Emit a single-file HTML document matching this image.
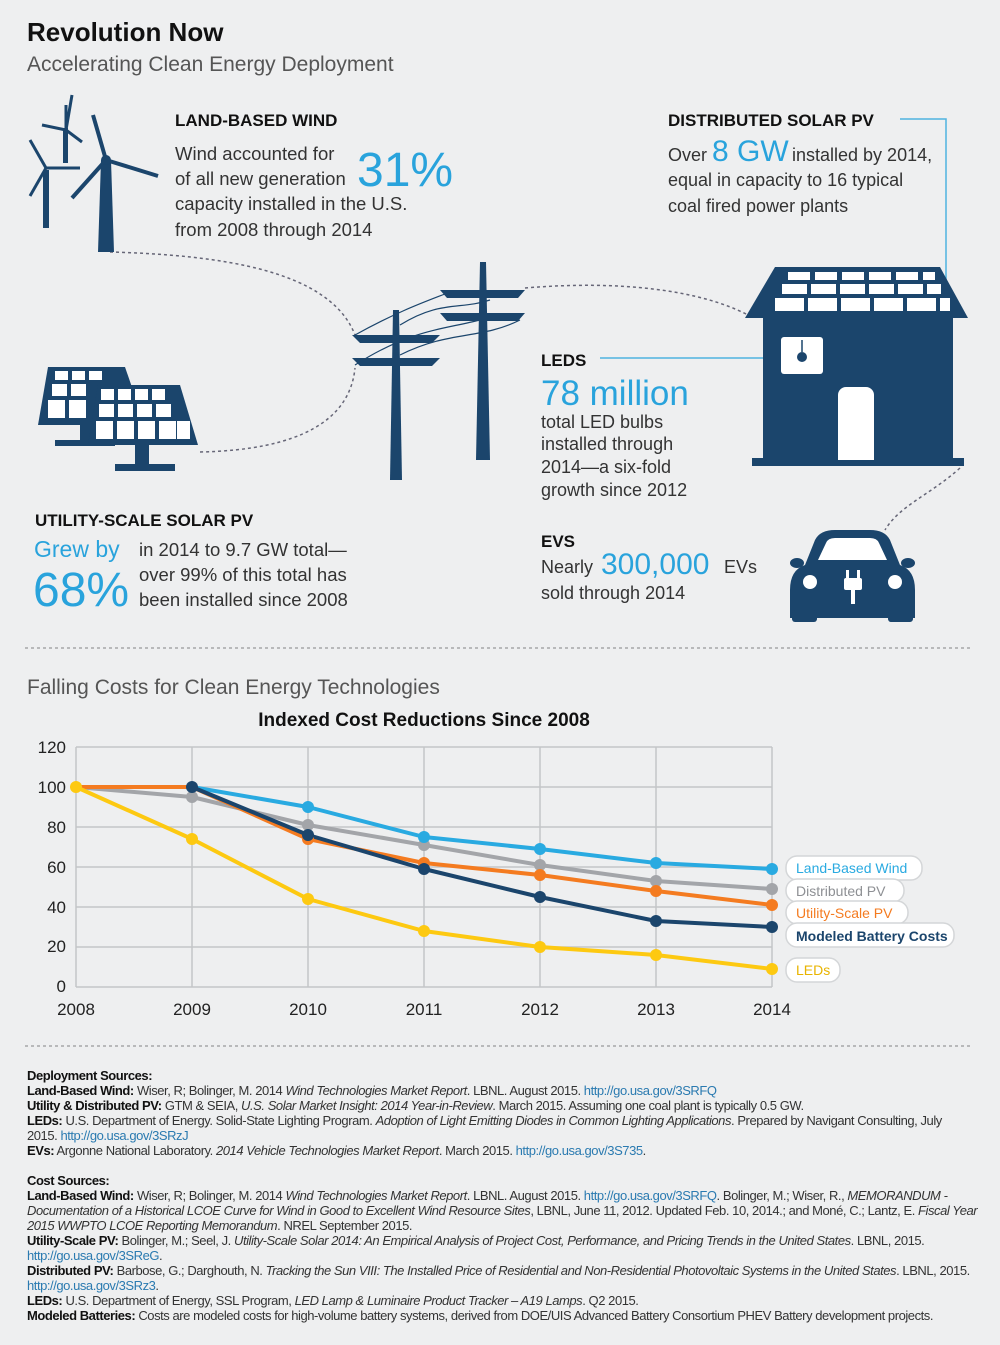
<!DOCTYPE html>
<html><head><meta charset="utf-8"><style>
html,body{margin:0;padding:0;background:#eeeff0;}
svg{display:block;font-family:"Liberation Sans",sans-serif;}
.src{position:absolute;left:27px;top:1068px;width:960px;font:13px/15px "Liberation Sans",sans-serif;color:#333;letter-spacing:-0.45px;white-space:nowrap}
.src b{color:#111}.src a{color:#2a7ab0;text-decoration:none}
</style></head><body>
<div style="position:relative;width:1000px;height:1345px;overflow:hidden">
<svg width="1000" height="1345" viewBox="0 0 1000 1345">
<rect width="1000" height="1345" fill="#eeeff0"/>
<text x="27" y="41" font-size="26" font-weight="bold" fill="#111">Revolution Now</text>
<text x="27" y="71" font-size="21" fill="#555">Accelerating Clean Energy Deployment</text>

<text x="175" y="126" font-size="17" font-weight="bold" fill="#111">LAND-BASED WIND</text>
<g font-size="18.5" fill="#333"><text x="175" y="160">Wind accounted for</text><text x="175" y="185">of all new generation</text><text x="175" y="210">capacity installed in the U.S.</text><text x="175" y="236">from 2008 through 2014</text></g>
<text x="357" y="186" font-size="48" fill="#29a3dc">31%</text>

<text x="668" y="126" font-size="17" font-weight="bold" fill="#111">DISTRIBUTED SOLAR PV</text>
<g font-size="18" fill="#333"><text x="668" y="161">Over</text><text x="792" y="161">installed by 2014,</text><text x="668" y="186">equal in capacity to 16 typical</text><text x="668" y="212">coal fired power plants</text></g>
<text x="712" y="161" font-size="30" fill="#29a3dc">8 GW</text>
<polyline points="900,119 946,119 946,355" fill="none" stroke="#4fb4e0" stroke-width="1.5"/>

<text x="541" y="366" font-size="17" font-weight="bold" fill="#111">LEDS</text>
<line x1="600" y1="358" x2="800" y2="358" stroke="#4fb4e0" stroke-width="1.5"/>
<text x="541" y="405" font-size="35" fill="#29a3dc">78 million</text>
<g font-size="18" fill="#333"><text x="541" y="428">total LED bulbs</text><text x="541" y="450">installed through</text><text x="541" y="473">2014—a six-fold</text><text x="541" y="496">growth since 2012</text></g>

<text x="541" y="547" font-size="17" font-weight="bold" fill="#111">EVS</text>
<g font-size="18" fill="#333"><text x="541" y="573">Nearly</text><text x="724" y="573">EVs</text><text x="541" y="599">sold through 2014</text></g>
<text x="601" y="574" font-size="30" fill="#29a3dc">300,000</text>

<text x="35" y="526" font-size="17" font-weight="bold" fill="#111">UTILITY-SCALE SOLAR PV</text>
<text x="34" y="557" font-size="23" fill="#29a3dc">Grew by</text>
<text x="33" y="606" font-size="48" fill="#29a3dc">68%</text>
<g font-size="18.5" fill="#333"><text x="139" y="556">in 2014 to 9.7 GW total—</text><text x="139" y="581">over 99% of this total has</text><text x="139" y="606">been installed since 2008</text></g>

<g fill="none" stroke="#667" stroke-width="1.5" stroke-dasharray="3,3">
<path d="M110,252 C220,255 330,270 355,335"/>
<path d="M200,452 C300,450 350,420 355,368"/>
<path d="M525,288 C620,280 700,290 748,315"/>
<path d="M960,468 C930,495 900,505 885,530"/>
</g>

<g fill="#1b456c" stroke="#1b456c">
<g stroke-width="3"><line x1="66" y1="160" x2="66" y2="105" /><line x1="66" y1="130" x2="72" y2="95"/><line x1="66" y1="130" x2="42" y2="125"/><line x1="66" y1="130" x2="82" y2="142"/></g>
<rect x="63" y="128" width="5" height="35" stroke="none"/>
<rect x="43" y="170" width="6" height="58" stroke="none"/>
<g stroke-width="3"><line x1="46" y1="168" x2="30" y2="140"/><line x1="46" y1="168" x2="80" y2="168"/><line x1="46" y1="168" x2="30" y2="196"/></g>
<polygon points="101,160 111,160 114,252 98,252" stroke="none"/>
<g stroke-width="4"><line x1="106" y1="160" x2="93" y2="115"/><line x1="106" y1="160" x2="158" y2="176"/><line x1="106" y1="160" x2="72" y2="198"/></g>
<circle cx="106" cy="160" r="5" stroke="none"/>
</g>

<g fill="none" stroke="#1b456c" stroke-width="1.2"><path d="M355,335 C400,310 430,300 450,292"/><path d="M400,325 C440,300 460,310 490,300"/><path d="M355,365 C410,330 440,330 480,320"/><path d="M400,355 C450,330 480,340 520,320"/></g>
<g fill="#1b456c">
<polygon points="393,310 399,310 402,480 390,480"/>
<polygon points="352,335 440,335 432,343 360,343"/>
<polygon points="352,358 440,358 432,366 360,366"/>
<polygon points="480,262 486,262 490,460 476,460"/>
<polygon points="440,290 525,290 518,298 447,298"/>
<polygon points="440,313 525,313 518,321 447,321"/>
</g>

<g fill="#1b456c">
<polygon points="48,367 125,367 145,425 38,425"/>
<rect x="80" y="425" width="12" height="20"/>
<rect x="55" y="440" width="60" height="6"/>
<polygon points="98,385 180,385 198,445 88,445"/>
<rect x="135" y="445" width="14" height="20"/>
<rect x="115" y="464" width="60" height="7"/>
</g>
<g fill="#fff">
<rect x="101" y="389" width="13" height="11"/><rect x="118" y="389" width="13" height="11"/><rect x="135" y="389" width="13" height="11"/><rect x="152" y="389" width="13" height="11"/>
<rect x="99" y="404" width="15" height="13"/><rect x="118" y="404" width="15" height="13"/><rect x="137" y="404" width="15" height="13"/><rect x="156" y="404" width="15" height="13"/>
<rect x="96" y="421" width="17" height="18"/><rect x="117" y="421" width="17" height="18"/><rect x="138" y="421" width="17" height="18"/><rect x="159" y="421" width="17" height="18"/><rect x="177" y="421" width="13" height="18"/>
<rect x="55" y="371" width="13" height="9"/><rect x="72" y="371" width="13" height="9"/><rect x="89" y="371" width="13" height="9"/>
<rect x="52" y="384" width="15" height="12"/><rect x="71" y="384" width="15" height="12"/>
<rect x="48" y="400" width="17" height="18"/><rect x="69" y="400" width="17" height="18"/>
</g>

<g fill="#1b456c">
<polygon points="775,267 940,267 968,318 745,318"/>
<rect x="763" y="318" width="190" height="143"/>
<rect x="752" y="458" width="212" height="8"/>
</g>
<g fill="#fff">
<rect x="788" y="272" width="22" height="8"/><rect x="815" y="272" width="22" height="8"/><rect x="842" y="272" width="22" height="8"/><rect x="869" y="272" width="22" height="8"/><rect x="896" y="272" width="22" height="8"/><rect x="923" y="272" width="12" height="8"/>
<rect x="782" y="284" width="25" height="10"/><rect x="811" y="284" width="25" height="10"/><rect x="840" y="284" width="25" height="10"/><rect x="869" y="284" width="25" height="10"/><rect x="898" y="284" width="25" height="10"/><rect x="927" y="284" width="14" height="10"/>
<rect x="775" y="298" width="29" height="13"/><rect x="808" y="298" width="29" height="13"/><rect x="841" y="298" width="29" height="13"/><rect x="874" y="298" width="29" height="13"/><rect x="907" y="298" width="29" height="13"/><rect x="940" y="298" width="10" height="13"/>
<rect x="781" y="337" width="42" height="37" rx="3"/>
<path d="M838,460 V395 a8,8 0 0 1 8,-8 h20 a8,8 0 0 1 8,8 V460 Z"/>
</g>
<circle cx="802" cy="357" r="5" fill="#1b456c"/><line x1="802" y1="340" x2="802" y2="352" stroke="#1b456c" stroke-width="1.5"/>

<g fill="#1b456c">
<path d="M815,540 Q820,530 835,530 H870 Q885,530 890,540 L900,565 Q915,570 915,590 V618 H790 V590 Q790,570 805,565 Z"/>
<rect x="792" y="610" width="25" height="12" rx="3"/><rect x="888" y="610" width="25" height="12" rx="3"/>
<ellipse cx="797" cy="563" rx="7" ry="5"/><ellipse cx="908" cy="563" rx="7" ry="5"/>
</g>
<path d="M818,560 L826,543 Q828,538 835,538 H870 Q877,538 879,543 L887,560 Z" fill="#fff"/>
<circle cx="810" cy="582" r="7" fill="#fff"/><circle cx="895" cy="582" r="7" fill="#fff"/>
<g fill="#fff"><rect x="844" y="578" width="18" height="12" rx="2"/><rect x="846" y="570" width="3" height="9"/><rect x="857" y="570" width="3" height="9"/><rect x="851" y="589" width="4" height="15"/></g>

<line x1="25" y1="648" x2="970" y2="648" stroke="#999" stroke-width="1.2" stroke-dasharray="3,3"/>
<line x1="25" y1="1046" x2="970" y2="1046" stroke="#999" stroke-width="1.2" stroke-dasharray="3,3"/>

<text x="27" y="694" font-size="21" fill="#555">Falling Costs for Clean Energy Technologies</text>
<text x="424" y="726" font-size="19" font-weight="bold" fill="#111" text-anchor="middle">Indexed Cost Reductions Since 2008</text>

<g stroke="#c4c6c8" stroke-width="1.5">
<line x1="76" y1="747" x2="772" y2="747"/><line x1="76" y1="787" x2="772" y2="787"/><line x1="76" y1="827" x2="772" y2="827"/><line x1="76" y1="867" x2="772" y2="867"/><line x1="76" y1="907" x2="772" y2="907"/><line x1="76" y1="947" x2="772" y2="947"/><line x1="76" y1="987" x2="772" y2="987"/>
<line x1="76" y1="747" x2="76" y2="987"/><line x1="192" y1="747" x2="192" y2="987"/><line x1="308" y1="747" x2="308" y2="987"/><line x1="424" y1="747" x2="424" y2="987"/><line x1="540" y1="747" x2="540" y2="987"/><line x1="656" y1="747" x2="656" y2="987"/><line x1="772" y1="747" x2="772" y2="987"/>
</g>
<g font-size="17" fill="#222" text-anchor="end">
<text x="66" y="753">120</text><text x="66" y="793">100</text><text x="66" y="833">80</text><text x="66" y="873">60</text><text x="66" y="913">40</text><text x="66" y="952">20</text><text x="66" y="992">0</text>
</g>
<g font-size="17" fill="#222" text-anchor="middle">
<text x="76" y="1015">2008</text><text x="192" y="1015">2009</text><text x="308" y="1015">2010</text><text x="424" y="1015">2011</text><text x="540" y="1015">2012</text><text x="656" y="1015">2013</text><text x="772" y="1015">2014</text>
</g>
<g fill="none" stroke-width="4" stroke-linejoin="round">
<polyline stroke="#a3a5a9" points="76,787 192,797 308,825 424,845 540,865 656,881 772,889"/>
<polyline stroke="#29aae1" points="76,787 192,787 308,807 424,837 540,849 656,863 772,869"/>
<polyline stroke="#f47b20" points="76,787 192,787 308,839 424,863 540,875 656,891 772,905"/>
<polyline stroke="#1b456c" points="192,787 308,835 424,869 540,897 656,921 772,927"/>
<polyline stroke="#fdc911" points="76,787 192,839 308,899 424,931 540,947 656,955 772,969"/>
</g>
<g fill="#a3a5a9"><circle cx="192" cy="797" r="6"/><circle cx="308" cy="825" r="6"/><circle cx="424" cy="845" r="6"/><circle cx="540" cy="865" r="6"/><circle cx="656" cy="881" r="6"/><circle cx="772" cy="889" r="6"/></g>
<g fill="#29aae1"><circle cx="308" cy="807" r="6"/><circle cx="424" cy="837" r="6"/><circle cx="540" cy="849" r="6"/><circle cx="656" cy="863" r="6"/><circle cx="772" cy="869" r="6"/></g>
<g fill="#f47b20"><circle cx="308" cy="839" r="6"/><circle cx="424" cy="863" r="6"/><circle cx="540" cy="875" r="6"/><circle cx="656" cy="891" r="6"/><circle cx="772" cy="905" r="6"/></g>
<g fill="#1b456c"><circle cx="192" cy="787" r="6"/><circle cx="308" cy="835" r="6"/><circle cx="424" cy="869" r="6"/><circle cx="540" cy="897" r="6"/><circle cx="656" cy="921" r="6"/><circle cx="772" cy="927" r="6"/></g>
<g fill="#fdc911"><circle cx="76" cy="787" r="6"/><circle cx="192" cy="839" r="6"/><circle cx="308" cy="899" r="6"/><circle cx="424" cy="931" r="6"/><circle cx="540" cy="947" r="6"/><circle cx="656" cy="955" r="6"/><circle cx="772" cy="969" r="6"/></g>

<g fill="#fff" stroke="#d4d6d8" stroke-width="1.5">
<rect x="786" y="856" width="136" height="24" rx="11"/>
<rect x="786" y="879" width="118" height="23" rx="11"/>
<rect x="786" y="901" width="122" height="23" rx="11"/>
<rect x="786" y="923" width="168" height="24" rx="11"/>
<rect x="786" y="958" width="54" height="24" rx="11"/>
</g>
<g font-size="14">
<text x="796" y="873" fill="#29aae1">Land-Based Wind</text>
<text x="796" y="896" fill="#8e9094">Distributed PV</text>
<text x="796" y="918" fill="#f47b20">Utility-Scale PV</text>
<text x="796" y="941" fill="#1b456c" font-weight="bold">Modeled Battery Costs</text>
<text x="796" y="975" fill="#e8b400">LEDs</text>
</g>
</svg>

<div class="src">
<b>Deployment Sources:</b><br>
<b>Land-Based Wind:</b> Wiser, R; Bolinger, M. 2014 <i>Wind Technologies Market Report</i>. LBNL. August 2015. <a>http://go.usa.gov/3SRFQ</a><br>
<b>Utility &amp; Distributed PV:</b> GTM &amp; SEIA, <i>U.S. Solar Market Insight: 2014 Year-in-Review</i>. March 2015. Assuming one coal plant is typically 0.5 GW.<br>
<b>LEDs:</b> U.S. Department of Energy. Solid-State Lighting Program. <i>Adoption of Light Emitting Diodes in Common Lighting Applications</i>. Prepared by Navigant Consulting, July<br>
2015. <a>http://go.usa.gov/3SRzJ</a><br>
<b>EVs:</b> Argonne National Laboratory. <i>2014 Vehicle Technologies Market Report</i>. March 2015. <a>http://go.usa.gov/3S735</a>.<br><br>
<b>Cost Sources:</b><br>
<b>Land-Based Wind:</b> Wiser, R; Bolinger, M. 2014 <i>Wind Technologies Market Report</i>. LBNL. August 2015. <a>http://go.usa.gov/3SRFQ</a>. Bolinger, M.; Wiser, R., <i>MEMORANDUM -</i><br>
<i>Documentation of a Historical LCOE Curve for Wind in Good to Excellent Wind Resource Sites</i>, LBNL, June 11, 2012. Updated Feb. 10, 2014.; and Moné, C.; Lantz, E. <i>Fiscal Year</i><br>
<i>2015 WWPTO LCOE Reporting Memorandum</i>. NREL September 2015.<br>
<b>Utility-Scale PV:</b> Bolinger, M.; Seel, J. <i>Utility-Scale Solar 2014: An Empirical Analysis of Project Cost, Performance, and Pricing Trends in the United States</i>. LBNL, 2015.<br>
<a>http://go.usa.gov/3SReG</a>.<br>
<b>Distributed PV:</b> Barbose, G.; Darghouth, N. <i>Tracking the Sun VIII: The Installed Price of Residential and Non-Residential Photovoltaic Systems in the United States</i>. LBNL, 2015.<br>
<a>http://go.usa.gov/3SRz3</a>.<br>
<b>LEDs:</b> U.S. Department of Energy, SSL Program, <i>LED Lamp &amp; Luminaire Product Tracker – A19 Lamps</i>. Q2 2015.<br>
<b>Modeled Batteries:</b> Costs are modeled costs for high-volume battery systems, derived from DOE/UIS Advanced Battery Consortium PHEV Battery development projects.
</div>
</div>
</body></html>
